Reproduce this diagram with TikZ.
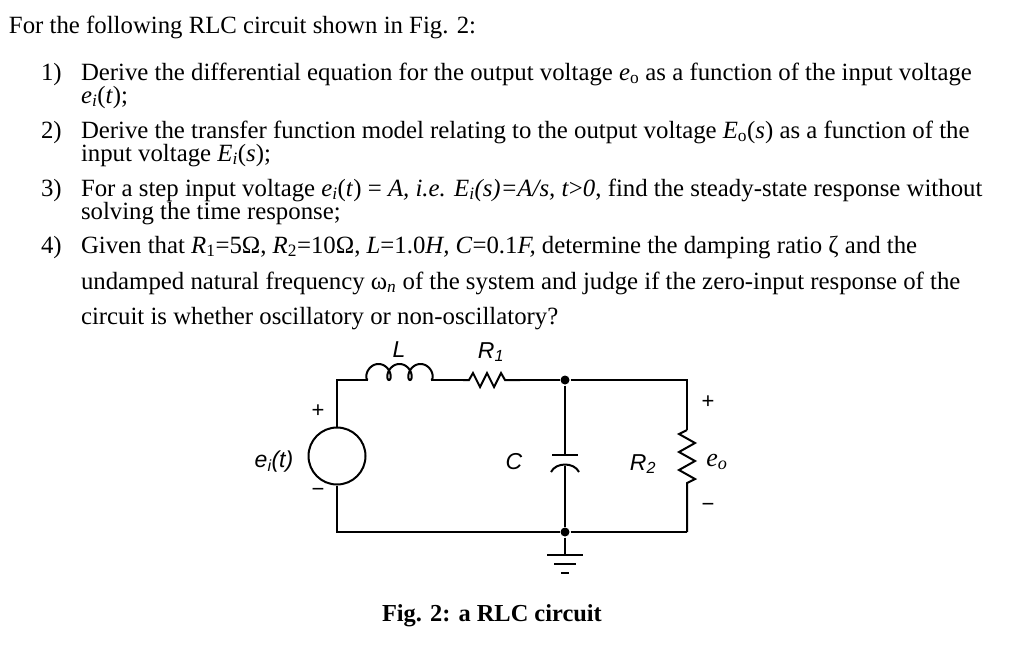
\documentclass[tikz,border=0pt]{standalone}
\usepackage{fontspec}
\setmainfont{Liberation Serif}
\newfontfamily\lsans{Liberation Sans}
\begin{document}
\begin{tikzpicture}[x=1pt,y=-1pt,line width=2pt,
  txt/.style={anchor=base west,inner sep=0,font=\fontsize{24.8}{28}\selectfont},
  lab/.style={inner sep=0,font=\lsans\itshape\fontsize{23}{26}\selectfont},
  sgn/.style={inner sep=0,font=\lsans\fontsize{22}{24}\selectfont},
  dot/.style={circle,fill,inner sep=0,minimum size=9pt}]
\useasboundingbox (0,0) rectangle (1024,653);
\node[txt] (t0) at (8,33) {For the following RLC circuit shown in Fig. 2:};
\node[txt] (n1) at (40,80) {1)};
\node[txt] (l1a) at (80,80) {Derive the differential equation for the output voltage \textit{e}$_\mathrm{o}$ as a function of the input voltage};
\node[txt] (l1b) at (80,103) {\textit{e}\textsubscript{\textit{i}}(\textit{t});};
\node[txt] (n2) at (40,138) {2)};
\node[txt] (l2a) at (80,138) {Derive the transfer function model relating to the output voltage \textit{E}\textsubscript{o}(\textit{s}) as a function of the};
\node[txt] (l2b) at (80,161) {input voltage \textit{E}\textsubscript{\textit{i}}(\textit{s});};
\node[txt] (n3) at (40,196) {3)};
\node[txt] (l3a) at (80,196) {For a step input voltage \textit{e}\textsubscript{\textit{i}}(\textit{t}) = \textit{A, i.e. E}\textsubscript{\textit{i}}\textit{(s)=A/s, t}\textgreater\textit{0}, find the steady-state response without};
\node[txt] (l3b) at (80,219) {solving the time response;};
\node[txt] (n4) at (40,253) {4)};
\node[txt] (l4a) at (80,253) {Given that \textit{R}\textsubscript{1}=5Ω, \textit{R}\textsubscript{2}=10Ω, \textit{L}=1.0\textit{H, C}=0.1\textit{F,} determine the damping ratio  ζ  and the};
\node[txt] (l4b) at (80,289) {undamped natural frequency  ω\textsubscript{\textit{n}}  of the system and judge if the zero-input response of the};
\node[txt] (l4c) at (80,324) {circuit is whether oscillatory or non-oscillatory?};
\node[txt,font=\bfseries\fontsize{24.4}{28}\selectfont] (cap) at (381,621) {Fig. 2: a RLC circuit};

% circuit
\coordinate (tl) at (337,380);
\coordinate (bl) at (337,532);
\coordinate (ls) at (363,380);
\coordinate (le) at (436,380);
\coordinate (rs) at (463,380);
\coordinate (re) at (520,380);
\node[dot] (nt) at (565,380) {};
\node[dot] (nb) at (565,532) {};
\coordinate (tr) at (687,380);
\coordinate (br) at (687,532);
\node[draw,circle,minimum size=57pt,inner sep=0] (src) at (337,456) {};
\draw (src.north) -- (tl) -- (ls);
\draw (src.south) -- (bl) -- (nb) -- (br);
\draw plot[domain=0:1080,samples=300,smooth] ({368+\x/360*21-6*sin(\x)},{380-8*(1-cos(\x))});
\draw (ls) -- (368,380);
\draw (431,380) -- (le) -- (rs);
\draw (rs) -- ++(6,0) -- ++(4,-7) -- ++(7,14) -- ++(7,-14) -- ++(7,14) -- ++(7,-14) -- ++(4,7) -- (re);
\draw (re) -- (nt) -- (tr) -- (687,430);
\draw (687,430) -- ++(-8,4) -- ++(16,9) -- ++(-16,9) -- ++(16,9) -- ++(-16,9) -- ++(16,9) -- ++(-8,4) -- (br);
% capacitor
\coordinate (cpt) at (565,455);
\coordinate (cpb) at (565,466);
\draw[line width=1.2pt] (nt) -- (cpt);
\draw (552,455) -- (578,455);
\draw (551,472) .. controls (556,462) and (574,462) .. (579,472);
\draw (cpb) -- (nb);
% ground
\coordinate (g) at (565,555);
\draw (nb) -- (g);
\draw (547,555) -- (583,555);
\draw (554,564) -- (576,564);
\draw (561,573) -- (569,573);
% labels
\node[lab] (lL) at (399,350) {L};
\node[lab] (lR1) at (491,352) {R\textsubscript{1}};
\node[lab] (lC) at (514,462) {C};
\node[lab] (lR2) at (643,464) {R\textsubscript{2}};
\node[inner sep=0,font=\itshape\fontsize{26}{28}\selectfont] (leo) at (717,462) {e\textsubscript{o}};
\node[lab] (lei) at (274,462) {e\textsubscript{\itshape i}(t)};
\node[sgn] (p1) at (318,411) {+};
\node[sgn] (m1) at (318,492) {−};
\node[sgn] (p2) at (708,402) {+};
\node[sgn] (m2) at (708,507) {−};
\end{tikzpicture}
\end{document}
